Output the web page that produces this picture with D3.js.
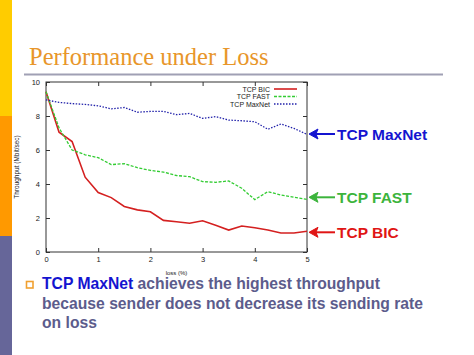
<!DOCTYPE html>
<html><head><meta charset="utf-8">
<script src="https://cdn.jsdelivr.net/npm/d3@7"></script>
<style>body{margin:0;background:#fff}svg{display:block}</style>
</head><body>
<script>
const lossPct = [0,0.25,0.5,0.75,1,1.25,1.5,1.75,2,2.25,2.5,2.75,3,3.25,3.5,3.75,4,4.25,4.5,4.75,5];
const bic    = [9.43,7.05,6.5,4.4,3.5,3.2,2.68,2.48,2.37,1.86,1.78,1.69,1.84,1.57,1.29,1.53,1.43,1.29,1.12,1.12,1.22];
const fast   = [9.43,7.3,6.0,5.72,5.55,5.14,5.2,4.96,4.8,4.7,4.5,4.43,4.14,4.1,4.18,3.75,3.08,3.55,3.35,3.22,3.1];
const maxnet = [8.95,8.8,8.73,8.68,8.6,8.42,8.5,8.22,8.27,8.27,8.08,8.15,7.86,7.96,7.76,7.72,7.66,7.22,7.53,7.27,6.92];
const xTicks = [0,1,2,3,4,5];
const yTicks = [0,2,4,6,8,10];
const seriesNames = ["TCP BIC","TCP FAST","TCP MaxNet"];
const seriesColors = ["#d42020","#33cc33","#2222aa"];
const calloutColors = ["#e01515","#3cb43c","#1414d0"];

const W=474,H=355;
const svg=d3.select("body").append("svg").attr("width",W).attr("height",H);

// left decorative bar
svg.append("rect").attr("x",0).attr("y",0).attr("width",12).attr("height",116).attr("fill","#ffcc00");
svg.append("rect").attr("x",0).attr("y",116).attr("width",12).attr("height",120).attr("fill","#ff9900");
svg.append("rect").attr("x",0).attr("y",236).attr("width",12).attr("height",H-236).attr("fill","#666699");

// title
svg.append("text").attr("x",29).attr("y",65).attr("font-family","Liberation Serif, Times New Roman, serif")
  .attr("font-size",24.5).attr("fill","#e8962a").text("Performance under Loss");
svg.append("line").attr("x1",24).attr("x2",443).attr("y1",74.5).attr("y2",74.5).attr("stroke","#a0a0b4").attr("stroke-width",2);

// chart
const x=d3.scaleLinear().domain([0,5]).range([46,307]);
const y=d3.scaleLinear().domain([0,10]).range([252,82]);
const g=svg.append("g").attr("font-family","Liberation Sans, Arial, sans-serif");
const ax=g.append("g").attr("transform","translate(0,252)").call(d3.axisBottom(x).tickValues(xTicks).tickSize(-4).tickPadding(5).tickFormat(d3.format("d")));
const axT=g.append("g").attr("transform","translate(0,82)").call(d3.axisTop(x).tickValues(xTicks).tickSize(-4).tickFormat(""));
const ay=g.append("g").attr("transform","translate(46,0)").call(d3.axisLeft(y).tickValues(yTicks).tickSize(-4).tickPadding(6).tickFormat(d3.format("d")));
const ayR=g.append("g").attr("transform","translate(307,0)").call(d3.axisRight(y).tickValues(yTicks).tickSize(-4).tickFormat(""));
[ax,axT,ay,ayR].forEach(a=>{a.selectAll("path").remove();a.selectAll("line").attr("stroke","#333");a.selectAll("text").attr("font-size",7.5).attr("fill","#222").attr("font-family","Liberation Sans, Arial, sans-serif");});
g.append("rect").attr("x",46).attr("y",82).attr("width",261).attr("height",170).attr("fill","none").attr("stroke","#333").attr("stroke-width",1);

g.append("text").attr("x",176.5).attr("y",275).attr("text-anchor","middle").attr("font-size",6).attr("fill","#222").text("loss (%)");
g.append("text").attr("transform","translate(19,167) rotate(-90)").attr("text-anchor","middle").attr("font-size",6.5).attr("fill","#222").text("Throughput (Mbit/sec)");

const data=[bic,fast,maxnet];
const dashes=[null,"3,1.5","1.5,1.5"];
const line=d3.line().x((d,i)=>x(lossPct[i])).y(d=>y(d));
data.forEach((s,k)=>{
  g.append("path").datum(s).attr("d",line).attr("fill","none").attr("stroke",seriesColors[k])
   .attr("stroke-width",k===0?1.6:1.3).attr("stroke-dasharray",dashes[k]);
});
// legend
seriesNames.forEach((n,k)=>{
  const ly=89+k*7.5;
  g.append("text").attr("x",270).attr("y",ly+2.5).attr("text-anchor","end").attr("font-size",7).attr("fill","#222").text(n);
  g.append("line").attr("x1",274).attr("x2",297).attr("y1",ly).attr("y2",ly).attr("stroke",seriesColors[k])
   .attr("stroke-width",k===0?1.6:1.3).attr("stroke-dasharray",dashes[k]);
});

// callouts
const calloutY=[232.3,197.3,134];
seriesNames.forEach((n,k)=>{
  const cy=calloutY[k];
  const c=calloutColors[k];
  svg.append("line").attr("x1",314).attr("x2",335).attr("y1",cy).attr("y2",cy).attr("stroke",c).attr("stroke-width",2);
  svg.append("path").attr("d",`M309,${cy} L318,${cy-5} L316,${cy} L318,${cy+5} Z`).attr("fill",c).attr("stroke",c).attr("stroke-width",1);
  svg.append("text").attr("x",337).attr("y",cy+5.5).attr("font-family","Liberation Sans, Arial, sans-serif")
    .attr("font-weight","bold").attr("font-size",15.5).attr("fill",c).text(n);
});

// bullet
svg.append("rect").attr("x",26.5).attr("y",281.5).attr("width",6.5).attr("height",6.5).attr("fill","none").attr("stroke","#f0a030").attr("stroke-width",1.6);
const bt=svg.append("text").attr("font-family","Liberation Sans, Arial, sans-serif").attr("font-weight","bold").attr("font-size",15.7).attr("fill","#5c5c8c");
const l1=bt.append("tspan").attr("x",42).attr("y",289);
l1.append("tspan").attr("fill","#1414d0").text("TCP MaxNet");
l1.append("tspan").text(" achieves the highest throughput");
bt.append("tspan").attr("x",42).attr("y",308.5).text("because sender does not decrease its sending rate");
bt.append("tspan").attr("x",42).attr("y",328).text("on loss");
</script>
</body></html>
